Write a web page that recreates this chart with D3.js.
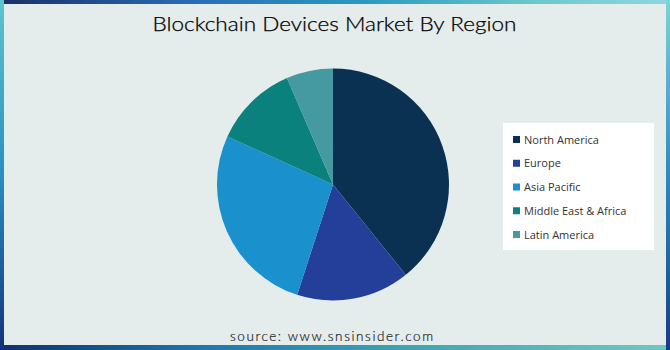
<!DOCTYPE html>
<html><head><meta charset="utf-8">
<script src="https://cdn.jsdelivr.net/npm/d3@7/dist/d3.min.js"></script>
<style>html,body{margin:0;padding:0;background:#e4ecec;}svg{display:block;}</style>
</head><body>
<script>
const regions = ["North America", "Europe", "Asia Pacific", "Middle East & Africa", "Latin America"];
const shares = [39.2, 15.8, 26.8, 11.7, 6.5];
const colors = ["#0b3152", "#233f99", "#1a90cd", "#0b817d", "#4599a1"];
const titleText = "Blockchain Devices Market By Region";
const sourceText = "source: www.snsinsider.com";

const W = 670, H = 350;
const svg = d3.select("body").append("svg").attr("width", W).attr("height", H);
const defs = svg.append("defs");
function grad(id, x2, y2, stops) {
  const g = defs.append("linearGradient").attr("id", id)
    .attr("x1", 0).attr("y1", 0).attr("x2", x2).attr("y2", y2);
  stops.forEach(([o, c]) => g.append("stop").attr("offset", o).attr("stop-color", c));
}
grad("gTop", 1, 0, [[0, "#1b2f66"], [0.3, "#2a6fb8"], [0.55, "#2b9bbf"], [0.8, "#6cc9c9"], [1, "#8fd6df"]]);
grad("gBot", 1, 0, [[0, "#10306a"], [0.3, "#1a78b0"], [0.6, "#3aa6b0"], [1, "#6ccac6"]]);
grad("gLeft", 0, 1, [[0, "#5cc6cc"], [0.5, "#2a8fc0"], [1, "#14337a"]]);
grad("gRight", 0, 1, [[0, "#7fd2d8"], [0.5, "#2a8cc0"], [1, "#1a3a8a"]]);

svg.append("rect").attr("width", W).attr("height", H).attr("fill", "#e4ecec");
svg.append("rect").attr("x", 0).attr("y", 0).attr("width", W).attr("height", 4).attr("fill", "url(#gTop)");
svg.append("rect").attr("x", 0).attr("y", 345).attr("width", W).attr("height", 5).attr("fill", "url(#gBot)");
svg.append("rect").attr("x", 0).attr("y", 0).attr("width", 4).attr("height", H).attr("fill", "url(#gLeft)");
svg.append("rect").attr("x", 666).attr("y", 0).attr("width", 4).attr("height", H).attr("fill", "url(#gRight)");

// title
svg.append("text").attr("x", 334.5).attr("y", 31).attr("text-anchor", "middle")
  .attr("font-family", "Lato, 'Open Sans', sans-serif").attr("font-size", 19).attr("font-weight", 300)
  .attr("fill", "#000").attr("stroke", "#000").attr("stroke-width", 0.25)
  .attr("textLength", 364).attr("lengthAdjust", "spacingAndGlyphs")
  .text(titleText);

// pie
const cx = 333, cy = 184.5, r = 116;
const pie = d3.pie().sort(null).value(d => d)(shares);
const arc = d3.arc().innerRadius(0).outerRadius(r);
svg.append("g").attr("transform", `translate(${cx},${cy})`)
  .selectAll("path").data(pie).join("path")
  .attr("d", arc).attr("fill", (d, i) => colors[i]);

// legend
const lg = svg.append("g");
lg.append("rect").attr("x", 503).attr("y", 123).attr("width", 151).attr("height", 127).attr("fill", "#ffffff");
const ly = d3.scalePoint().domain(regions).range([139.5, 234.5]);
regions.forEach((name, i) => {
  lg.append("rect").attr("x", 513).attr("y", ly(name) - 3.5).attr("width", 7).attr("height", 7).attr("fill", colors[i]);
  lg.append("text").attr("x", 524).attr("y", ly(name) + 4).attr("font-family", "'Open Sans', 'Liberation Sans', sans-serif")
    .attr("font-size", 11).attr("fill", "#333").text(name);
});

// source
svg.append("text").attr("x", 230).attr("y", 341).attr("font-family", "Lato, 'Open Sans', sans-serif")
  .attr("font-size", 13.5).attr("font-weight", 300).attr("fill", "#222").attr("stroke", "#222").attr("stroke-width", 0.2)
  .attr("textLength", 203).attr("lengthAdjust", "spacing")
  .text(sourceText);
</script>
</body></html>
